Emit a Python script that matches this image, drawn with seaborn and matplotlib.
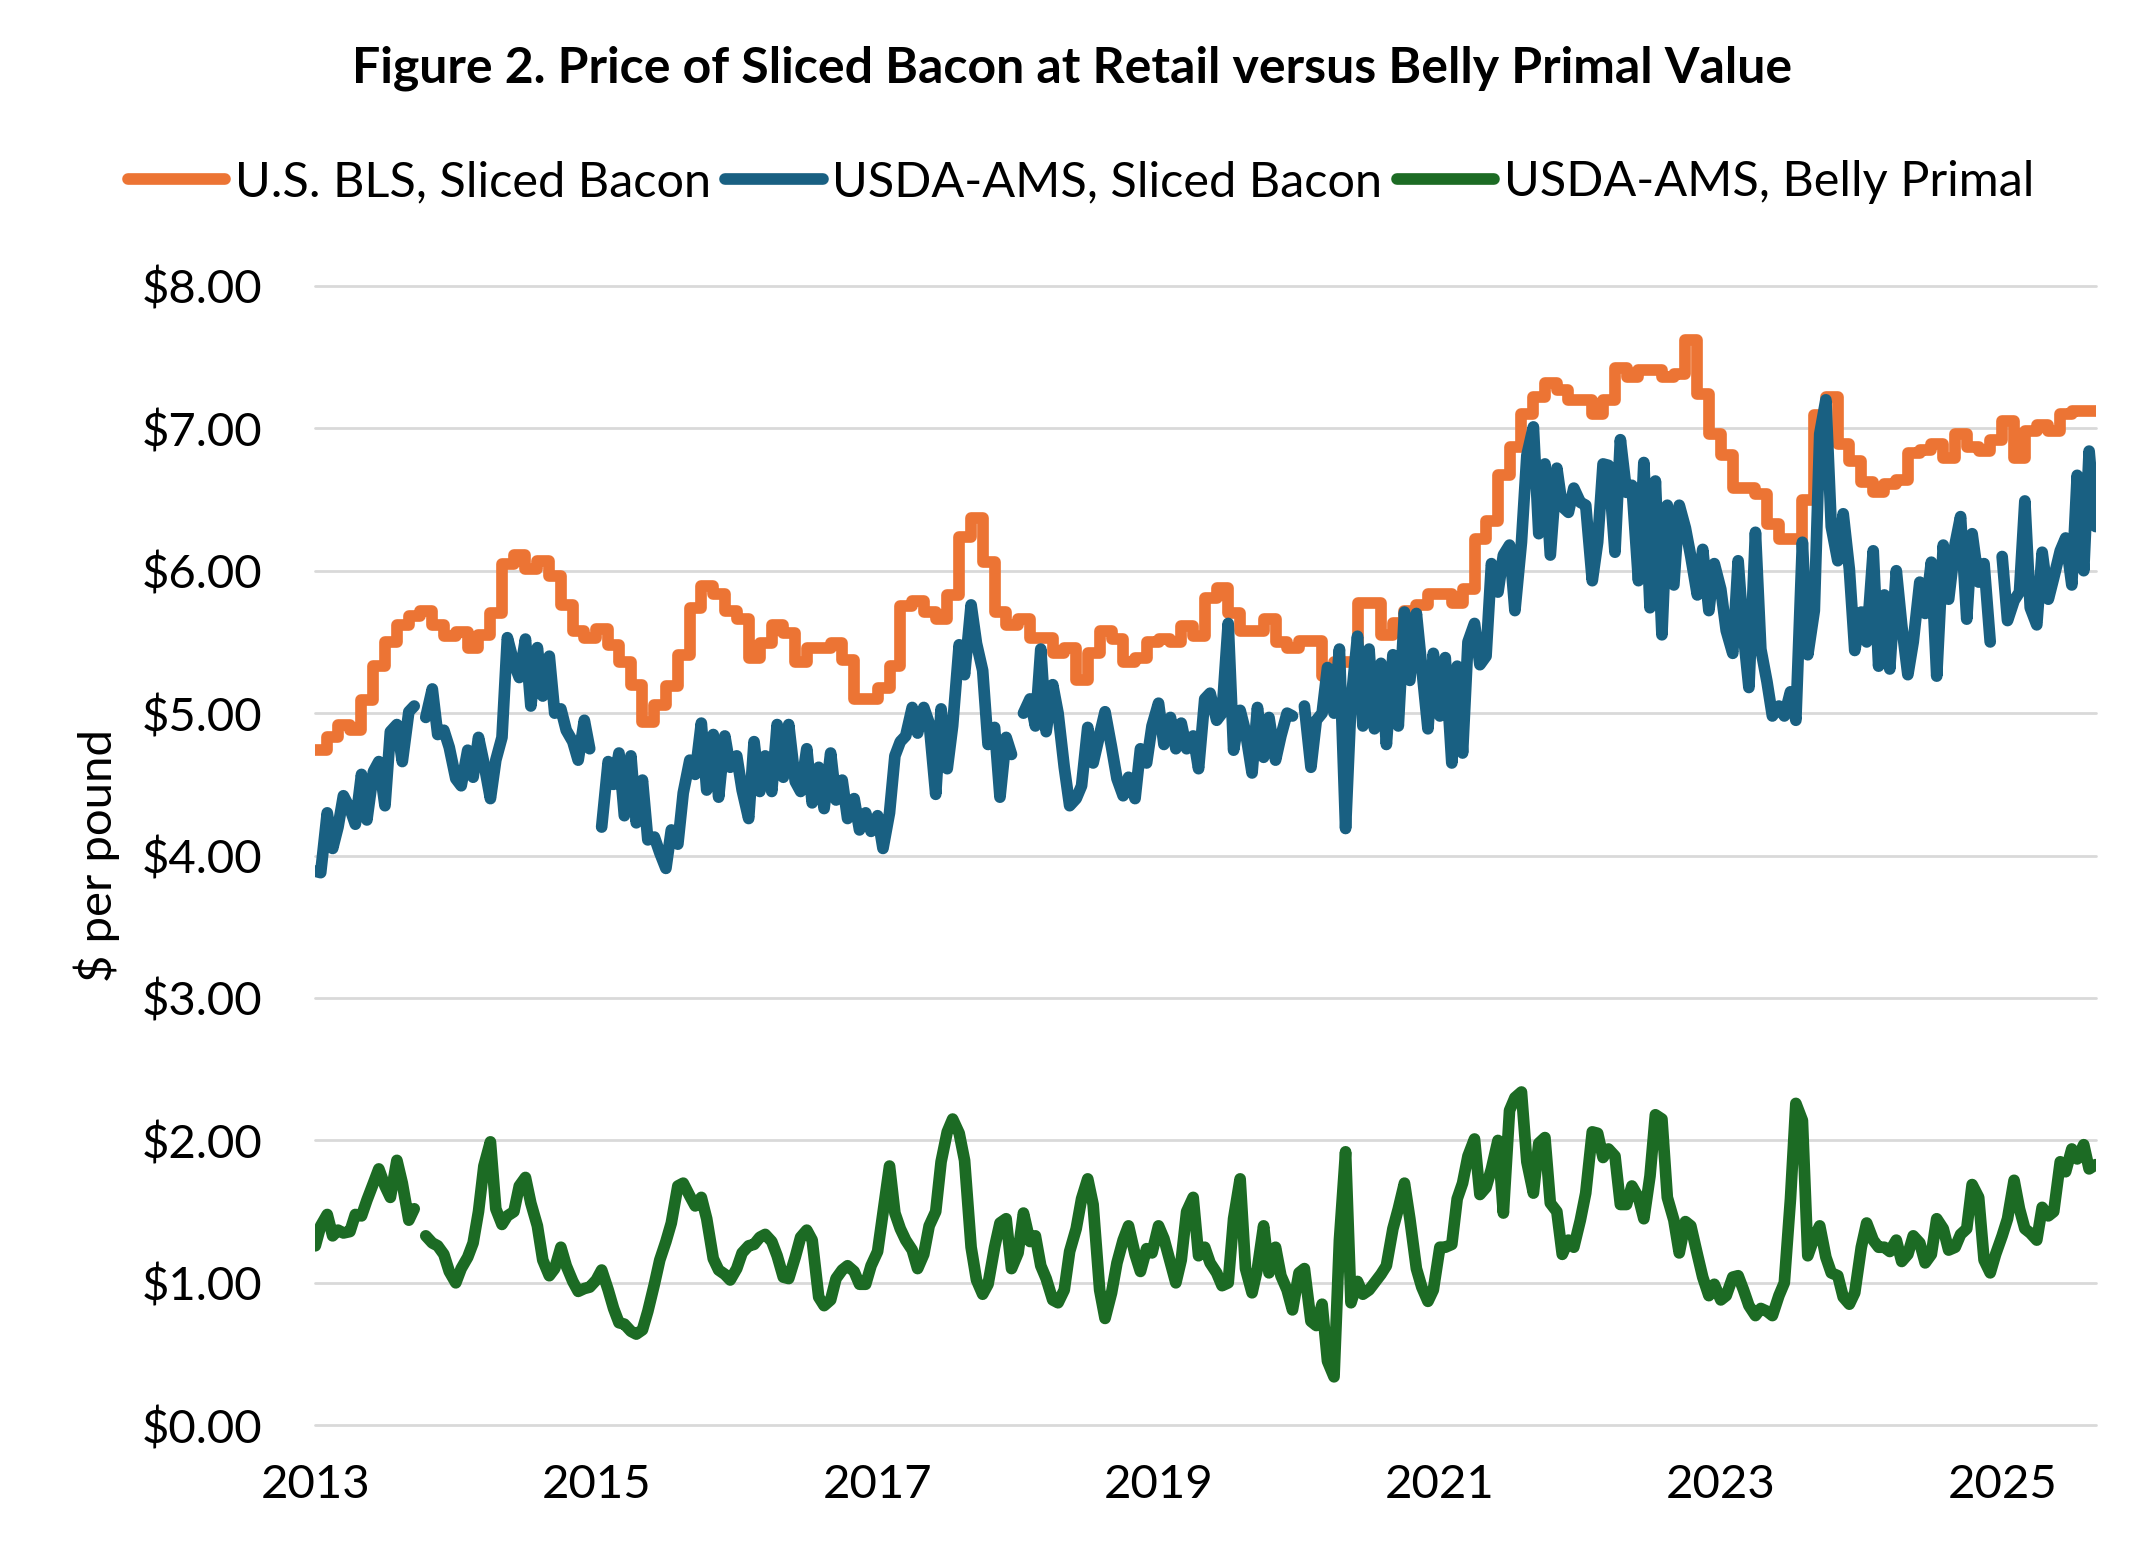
#!/usr/bin/env python3
"""Retail sliced bacon price versus belly primal value, 2013-2025."""

import numpy as np
import pandas as pd
import matplotlib

matplotlib.use("Agg")
import matplotlib.pyplot as plt
import matplotlib.dates as mdates
from matplotlib.lines import Line2D
from matplotlib.ticker import FuncFormatter
import seaborn as sns


TITLE = "Figure 2. Price of Sliced Bacon at Retail versus Belly Primal Value"
LABELS = ["U.S. BLS, Sliced Bacon", "USDA-AMS, Sliced Bacon", "USDA-AMS, Belly Primal"]
COLORS = ["#EC7434", "#196082", "#1C6B24"]
YEAR_TICKS = [2013, 2015, 2017, 2019, 2021, 2023, 2025]

nan = np.nan

# BLS average retail price, $/lb, monthly from Jan 2013 (one row per year)
bls_price = [
    4.74, 4.83, 4.92, 4.88, 5.09, 5.33, 5.50, 5.62, 5.68, 5.72, 5.62, 5.54,
    5.57, 5.46, 5.55, 5.70, 6.05, 6.11, 6.01, 6.07, 5.96, 5.76, 5.58, 5.53,
    5.59, 5.48, 5.36, 5.20, 4.94, 5.06, 5.19, 5.41, 5.74, 5.89, 5.84, 5.72,
    5.66, 5.39, 5.49, 5.62, 5.56, 5.36, 5.46, 5.46, 5.49, 5.37, 5.10, 5.10,
    5.18, 5.33, 5.75, 5.79, 5.71, 5.66, 5.83, 6.24, 6.37, 6.06, 5.71, 5.62,
    5.66, 5.53, 5.53, 5.42, 5.46, 5.23, 5.42, 5.58, 5.52, 5.36, 5.39, 5.50,
    5.52, 5.50, 5.61, 5.54, 5.81, 5.88, 5.70, 5.58, 5.58, 5.66, 5.50, 5.46,
    5.51, 5.51, 5.26, 5.36, 5.36, 5.77, 5.77, 5.55, 5.63, 5.72, 5.76, 5.84,
    5.84, 5.77, 5.87, 6.22, 6.35, 6.67, 6.87, 7.10, 7.22, 7.32, 7.27, 7.20,
    7.20, 7.10, 7.20, 7.42, 7.36, 7.41, 7.41, 7.36, 7.38, 7.62, 7.24, 6.96,
    6.81, 6.58, 6.58, 6.54, 6.33, 6.22, 6.22, 6.50, 7.09, 7.22, 6.89, 6.77,
    6.62, 6.55, 6.61, 6.64, 6.83, 6.85, 6.89, 6.79, 6.96, 6.87, 6.84, 6.92,
    7.05, 6.79, 6.98, 7.02, 6.98, 7.10, 7.12, 7.12, 7.12,
]

# USDA-AMS weekly reports, read on the 1st and 15th of each month from Jan 2013
# (one row per year, nan = no report that week)
ams_bacon = [
    3.89, 3.88, 4.30, 4.05, 4.20, 4.42, 4.33, 4.22, 4.57, 4.25, 4.59, 4.66, 4.35, 4.87, 4.92, 4.66, 5.01, 5.05, nan, 4.97, 5.17, 4.85, 4.88, 4.76,
    4.54, 4.49, 4.74, 4.55, 4.83, 4.65, 4.40, 4.67, 4.83, 5.53, 5.35, 5.25, 5.52, 5.05, 5.46, 5.12, 5.40, 5.00, 5.03, 4.88, 4.80, 4.67, 4.95, 4.75,
    nan, 4.20, 4.66, 4.50, 4.72, 4.28, 4.70, 4.23, 4.53, 4.11, 4.13, 4.02, 3.91, 4.18, 4.08, 4.44, 4.67, 4.57, 4.93, 4.46, 4.85, 4.41, 4.84, 4.62,
    4.70, 4.46, 4.26, 4.80, 4.45, 4.70, 4.45, 4.92, 4.55, 4.92, 4.52, 4.45, 4.75, 4.37, 4.62, 4.33, 4.72, 4.39, 4.53, 4.26, 4.40, 4.18, 4.30, 4.17,
    4.28, 4.05, 4.30, 4.70, 4.80, 4.84, 5.04, 4.86, 5.04, 4.93, 4.43, 5.03, 4.61, 4.91, 5.48, 5.27, 5.76, 5.49, 5.30, 4.78, 4.90, 4.41, 4.83, 4.71,
    nan, 5.00, 5.10, 4.91, 5.45, 4.87, 5.20, 5.00, 4.62, 4.35, 4.40, 4.49, 4.90, 4.65, 4.85, 5.01, 4.76, 4.54, 4.42, 4.55, 4.40, 4.75, 4.65, 4.91,
    5.07, 4.78, 4.97, 4.75, 4.93, 4.75, 4.84, 4.61, 5.10, 5.14, 4.95, 5.00, 5.63, 4.74, 5.02, 4.87, 4.58, 5.04, 4.69, 4.97, 4.67, 4.84, 5.00, 4.98,
    nan, 5.05, 4.62, 4.95, 5.00, 5.32, 5.00, 5.45, 4.19, 5.07, 5.54, 4.91, 5.45, 4.89, 5.35, 4.78, 5.41, 4.91, 5.71, 5.23, 5.70, 5.32, 4.89, 5.42,
    4.98, 5.39, 4.65, 5.33, 4.72, 5.50, 5.63, 5.34, 5.40, 6.05, 5.85, 6.11, 6.18, 5.72, 6.20, 6.81, 7.01, 6.26, 6.75, 6.11, 6.72, 6.45, 6.41, 6.58,
    6.48, 6.46, 5.93, 6.20, 6.75, 6.74, 6.13, 6.92, 6.55, 6.60, 5.93, 6.76, 5.74, 6.63, 5.55, 6.46, 5.90, 6.46, 6.30, 6.10, 5.83, 6.15, 5.72, 6.05,
    5.87, 5.58, 5.42, 6.07, 5.55, 5.18, 6.27, 5.45, 5.22, 4.98, 5.05, 4.98, 5.15, 4.95, 6.20, 5.41, 5.72, 6.96, 7.20, 6.31, 6.07, 6.40, 6.01, 5.44,
    5.71, 5.50, 6.14, 5.33, 5.83, 5.31, 6.00, 5.62, 5.27, 5.50, 5.92, 5.70, 6.06, 5.26, 6.18, 5.80, 6.19, 6.38, 5.66, 6.26, 5.92, 6.05, 5.50, nan,
    6.10, 5.65, 5.79, 5.85, 6.49, 5.74, 5.62, 6.13, 5.80, 5.95, 6.14, 6.23, 5.90, 6.67, 6.00, 6.84, 6.31,
]

ams_belly = [
    1.26, 1.40, 1.48, 1.33, 1.37, 1.35, 1.36, 1.48, 1.47, 1.58, 1.70, 1.80, 1.68, 1.60, 1.86, 1.70, 1.44, 1.52, nan, 1.33, 1.28, 1.26, 1.20, 1.08,
    1.00, 1.10, 1.18, 1.28, 1.50, 1.82, 1.99, 1.52, 1.41, 1.47, 1.50, 1.68, 1.74, 1.56, 1.40, 1.16, 1.05, 1.10, 1.25, 1.12, 1.01, 0.94, 0.96, 0.97,
    1.02, 1.09, 0.95, 0.82, 0.72, 0.71, 0.66, 0.64, 0.67, 0.80, 0.99, 1.16, 1.29, 1.42, 1.68, 1.70, 1.61, 1.54, 1.60, 1.45, 1.17, 1.09, 1.06, 1.02,
    1.10, 1.21, 1.26, 1.27, 1.32, 1.34, 1.29, 1.19, 1.04, 1.03, 1.18, 1.32, 1.37, 1.30, 0.90, 0.84, 0.88, 1.03, 1.09, 1.12, 1.08, 0.99, 0.99, 1.12,
    1.22, 1.49, 1.82, 1.49, 1.38, 1.30, 1.23, 1.10, 1.20, 1.40, 1.50, 1.85, 2.06, 2.15, 2.05, 1.86, 1.25, 1.02, 0.92, 0.99, 1.25, 1.42, 1.45, 1.10,
    1.21, 1.49, 1.29, 1.33, 1.12, 1.03, 0.88, 0.86, 0.95, 1.22, 1.38, 1.59, 1.73, 1.55, 0.95, 0.75, 0.93, 1.14, 1.30, 1.40, 1.20, 1.08, 1.24, 1.21,
    1.40, 1.31, 1.14, 1.00, 1.16, 1.50, 1.60, 1.19, 1.25, 1.14, 1.07, 0.98, 1.00, 1.45, 1.73, 1.10, 0.93, 1.10, 1.40, 1.07, 1.25, 1.05, 0.95, 0.81,
    1.07, 1.10, 0.73, 0.70, 0.85, 0.45, 0.34, 1.30, 1.92, 0.86, 1.01, 0.92, 0.95, 1.00, 1.06, 1.12, 1.38, 1.52, 1.70, 1.45, 1.10, 0.97, 0.87, 0.95,
    1.25, 1.25, 1.27, 1.59, 1.70, 1.89, 2.01, 1.62, 1.67, 1.80, 2.00, 1.49, 2.21, 2.30, 2.34, 1.85, 1.63, 1.98, 2.02, 1.56, 1.50, 1.20, 1.30, 1.25,
    1.44, 1.63, 2.06, 2.05, 1.88, 1.94, 1.89, 1.55, 1.55, 1.68, 1.60, 1.45, 1.75, 2.18, 2.15, 1.60, 1.44, 1.21, 1.43, 1.40, 1.20, 1.04, 0.91, 0.99,
    0.88, 0.91, 1.04, 1.05, 0.95, 0.84, 0.77, 0.82, 0.80, 0.77, 0.91, 1.00, 1.59, 2.26, 2.14, 1.19, 1.32, 1.40, 1.18, 1.07, 1.05, 0.90, 0.85, 0.93,
    1.25, 1.42, 1.30, 1.25, 1.25, 1.22, 1.30, 1.15, 1.20, 1.33, 1.28, 1.14, 1.20, 1.45, 1.38, 1.23, 1.25, 1.34, 1.38, 1.69, 1.60, 1.16, 1.07, 1.20,
    1.33, 1.45, 1.72, 1.52, 1.38, 1.35, 1.30, 1.53, 1.47, 1.50, 1.85, 1.78, 1.94, 1.87, 1.97, 1.80, 1.83,
]


def to_frame(dates, values):
    """Long frame with a run id so gaps in the reports stay gaps."""
    df = pd.DataFrame({"date": dates, "price": np.asarray(values, dtype=float)})
    df["run"] = df["price"].isna().cumsum()
    return df.dropna()


def main() -> None:
    sns.set_theme(style="white")
    plt.rcParams["font.family"] = ["Lato", "DejaVu Sans"]
    plt.rcParams["text.color"] = "black"
    plt.rcParams["axes.labelcolor"] = "black"

    month_dates = pd.date_range("2013-01-01", periods=len(bls_price), freq="MS")
    semi_dates = pd.date_range("2013-01-01", periods=len(ams_bacon), freq="SMS")
    bls = to_frame(month_dates, bls_price)
    bacon = to_frame(semi_dates, ams_bacon)
    belly = to_frame(semi_dates, ams_belly)

    fig, ax = plt.subplots(figsize=(10.725, 7.79), dpi=200)
    fig.subplots_adjust(left=0.147, right=0.977, top=0.8165, bottom=0.0852)

    lw = 4.2
    common = dict(x="date", y="price", units="run", estimator=None, linewidth=lw,
                  solid_joinstyle="round", solid_capstyle="round", ax=ax)
    sns.lineplot(data=bls, color=COLORS[0], drawstyle="steps-post", **common)
    sns.lineplot(data=bacon, color=COLORS[1], **common)
    sns.lineplot(data=belly, color=COLORS[2], **common)

    ax.set_ylim(0, 8)
    ax.set_yticks(range(0, 9))
    ax.yaxis.set_major_formatter(FuncFormatter(lambda v, _: f"${v:.2f}"))
    ax.set_xlim(mdates.date2num(month_dates[0]), mdates.date2num(semi_dates[-1]))
    ticks = [mdates.date2num(pd.Timestamp(f"{y}-01-01")) for y in YEAR_TICKS]
    ax.set_xticks(ticks)
    ax.set_xticklabels([str(y) for y in YEAR_TICKS])

    ax.grid(False)
    ax.yaxis.grid(True, color="#D9D9D9", linewidth=1.0)
    ax.set_axisbelow(True)
    for line in ax.get_ygridlines():
        line.set_clip_on(False)
    for spine in ax.spines.values():
        spine.set_visible(False)
    ax.tick_params(length=0, labelsize=17, colors="black")
    ax.tick_params(axis="y", pad=19)
    ax.tick_params(axis="x", pad=14)
    ax.set_xlabel("")
    ax.set_ylabel("$ per pound", fontsize=17, labelpad=8, color="black")

    handles = [Line2D([], [], color=c, linewidth=lw) for c in COLORS]
    fig.legend(handles, LABELS, loc="center", bbox_to_anchor=(0.504, 0.883), ncol=3,
               frameon=False, fontsize=17.5, handlelength=2.0, handletextpad=0.2,
               columnspacing=0.3, labelcolor="black")
    fig.suptitle(TITLE, x=0.5, y=0.956, fontsize=18, fontweight="bold", va="center",
                 color="black")

    fig.savefig("out.png", dpi=200)
    plt.close(fig)


if __name__ == "__main__":
    main()
